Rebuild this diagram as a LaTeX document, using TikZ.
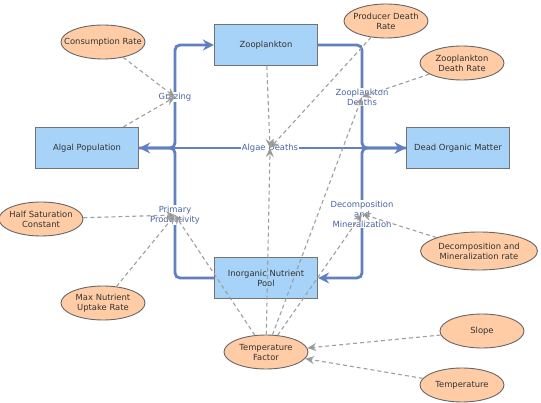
\documentclass[tikz,border=0pt]{standalone}
\usepackage{fontspec}
\setmainfont{DejaVu Sans}
\usepackage{tikz}
\usetikzlibrary{positioning}
\usetikzlibrary{shapes.geometric}
\usetikzlibrary{arrows.meta}
\definecolor{stockfill}{HTML}{A6D3F7}
\definecolor{paramfill}{HTML}{FFCCA6}
\definecolor{flowcol}{HTML}{6180C2}
\definecolor{flowtext}{HTML}{4A64A6}
\colorlet{linkcol}{black!38}
\tikzset{>=latex}

\begin{document}
\begin{tikzpicture}[x=1pt, y=-1pt, font=\fontsize{8.4}{10}\selectfont,
    stock/.style={draw=black!55, line width=1.2pt, fill=stockfill, minimum width=103pt,
        minimum height=41pt, align=center, text=black!80},
    param/.style={ellipse, draw=black!60, line width=0.9pt, fill=paramfill, minimum width=84pt,
        minimum height=34pt, inner xsep=-16pt, inner ysep=0pt, align=center, text=black!80},
    flow/.style={draw=flowcol, line width=2.8pt, rounded corners=5pt,
        -{Stealth[length=11pt, width=11pt]}},
    rate/.style={fill=white, text=flowtext, align=center, inner sep=0.5pt},
    link/.style={draw=linkcol, dash pattern=on 4pt off 3pt, line width=1.1pt,
        -{Stealth[length=9pt, width=8pt, fill=black!45]}}]
        \useasboundingbox (0,0) rectangle (541,403);

        % 1. Stocks
        \node[stock] (zoo) at (266,45) {Zooplankton};
        \node[stock] (alg) at (87,148) {Algal Population};
        \node[stock] (dom) at (458,148) {Dead Organic Matter};
        \node[stock] (inp) at (266,278) {Inorganic Nutrient\\Pool};

        % 2. Parameters
        \node[param] (cons) at (103,42) {Consumption Rate};
        \node[param] (pdr) at (386,21) {Producer Death\\Rate};
        \node[param] (zdr) at (462,63) {Zooplankton\\Death Rate};
        \node[param] (hsc) at (41,219) {Half Saturation\\Constant};
        \node[param] (mnu) at (103,303) {Max Nutrient\\Uptake Rate};
        \node[param, minimum width=117pt, minimum height=38pt] (dmr) at (479,251)
            {Decomposition and\\Mineralization rate};
        \node[param] (slope) at (482,331) {Slope};
        \node[param] (temp) at (462,385) {Temperature};
        \node[param] (tf) at (266,352) {Temperature\\Factor};

        % 3. Flows
        \coordinate (jL) at (175,148);
        \coordinate (jR) at (362,148);
        \draw[flow] (alg.east) -- (jL) |- (zoo.west);
        \draw[flow] (inp.west) -| (jL) -- (alg.east);
        \draw[flow] (alg.east) -- (dom.west);
        \draw[flow] (zoo.east) -| (jR) -- (dom.west);
        \draw[flow] (dom.west) -- (jR) |- (inp.east);

        % 4. Flow labels
        \node[rate] (grz) at (175,97) {Grazing};
        \node[rate] (ad) at (270,148) {Algae Deaths};
        \node[rate] (pp) at (175,215) {Primary\\Productivity};
        \node[rate] (zd) at (362,97) {Zooplankton\\Deaths};
        \node[rate] (dm) at (362,214) {Decomposition\\and\\Mineralization};

        % 5. Links
        \draw[link] (cons) -- (grz.center);
        \draw[link] (alg) -- (grz.center);
        \draw[link] (pdr) -- (ad.center);
        \draw[link] (zoo) -- (ad.center);
        \draw[link] (tf) -- (ad.center);
        \draw[link] (hsc) -- (pp.center);
        \draw[link] (mnu) -- (pp.center);
        \draw[link] (tf) -- (pp.center);
        \draw[link] (zdr) -- (zd.center);
        \draw[link] (tf) -- (zd.center);
        \draw[link] (dmr) -- (dm.center);
        \draw[link] (tf) -- (dm.center);
        \draw[link] (slope) -- (tf);
        \draw[link] (temp) -- (tf);
    \end{tikzpicture}
\end{document}
